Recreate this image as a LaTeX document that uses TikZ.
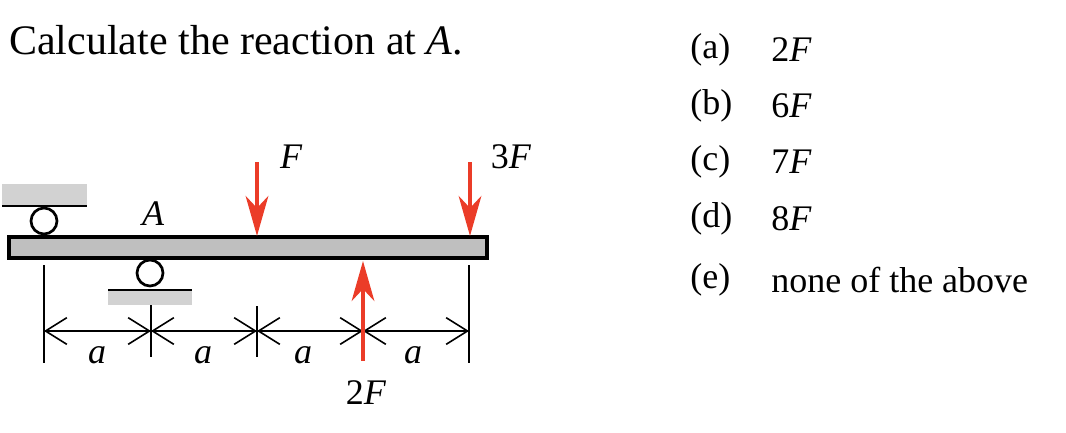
\documentclass[tikz,border=0pt]{standalone}
\usepackage{fontspec}
\setmainfont{Liberation Serif}
\usetikzlibrary{arrows.meta}
\begin{document}
\begin{tikzpicture}[x=0.75pt,y=-0.75pt,
  force/.style={draw={rgb,255:red,235;green,60;blue,40},line width=2.6pt,-{Stealth[length=30pt,width=17pt,inset=9pt]}},
  dimtick/.style={line width=1pt},
  dim/.style={line width=1pt,{Straight Barb[length=16pt,width=20pt,line width=1.2pt]}-{Straight Barb[length=16pt,width=20pt,line width=1.2pt]}},
  lbl/.style={font=\fontsize{27}{30}\selectfont,inner sep=0pt},
  ital/.style={font=\fontsize{27}{30}\selectfont\itshape,inner sep=0pt}]
\useasboundingbox (0,0) rectangle (1066,432);
\node[anchor=west,font=\fontsize{31.5}{34}\selectfont,inner sep=0pt] (title) at (9,40) {Calculate the reaction at \textit{A}.};
% supports
\fill[gray!35] (2,184) rectangle (87,206);
\draw[line width=2pt] (2,206) -- (87,206);
\draw[line width=2pt] (44,221) circle (13);
\fill[gray!35] (108,290) rectangle (192,305);
\draw[line width=2pt] (108,290) -- (192,290);
\draw[line width=2pt] (150,273) circle (13);
% beam
\draw[fill=gray!50,line width=2.4pt] (9,237) rectangle (487,258);
\node[ital] (A) at (153,214) {A};
% dims
\coordinate (d0) at (44,331); \coordinate (d1) at (151,331);
\coordinate (d2) at (257,331); \coordinate (d3) at (363,331); \coordinate (d4) at (469,331);
\draw[dimtick] (44,265) -- (44,363);
\draw[dimtick] (151,305) -- (151,357);
\draw[dimtick] (257,306) -- (257,357);
\draw[dimtick] (469,265) -- (469,363);
\draw[dim] (d0) -- (d1);
\draw[dim] (d1) -- (d2);
\draw[dim] (d2) -- (d3);
\draw[dim] (d3) -- (d4);
\node[ital] (a1) at (97,355) {a};
\node[ital] (a2) at (203,355) {a};
\node[ital] (a3) at (303,355) {a};
\node[ital] (a4) at (413,355) {a};
% forces
\coordinate (f1s) at (257,162); \coordinate (f1e) at (257,236);
\coordinate (f3s) at (470,162); \coordinate (f3e) at (470,236);
\coordinate (f2s) at (363,361); \coordinate (f2e) at (363,261);
\draw[force] (f1s) -- (f1e);
\draw[force] (f3s) -- (f3e);
\draw[force] (f2s) -- (f2e);
\node[ital] (F1) at (291,157) {F};
\node[lbl] (F3) at (511,157) {3\textit{F}};
\node[lbl] (F2) at (366,393) {2\textit{F}};
% options
\foreach \y/\l/\t [count=\i] in {50/(a)/2\textit{F},106/(b)/6\textit{F},162/(c)/7\textit{F},219/(d)/8\textit{F},280/(e)/none of the above}{
  \node[lbl,anchor=west] (o\i) at (690,\y) {\l};
  \node[lbl,anchor=west] (t\i) at (771,\y) {\t};
}
\end{tikzpicture}
\end{document}
